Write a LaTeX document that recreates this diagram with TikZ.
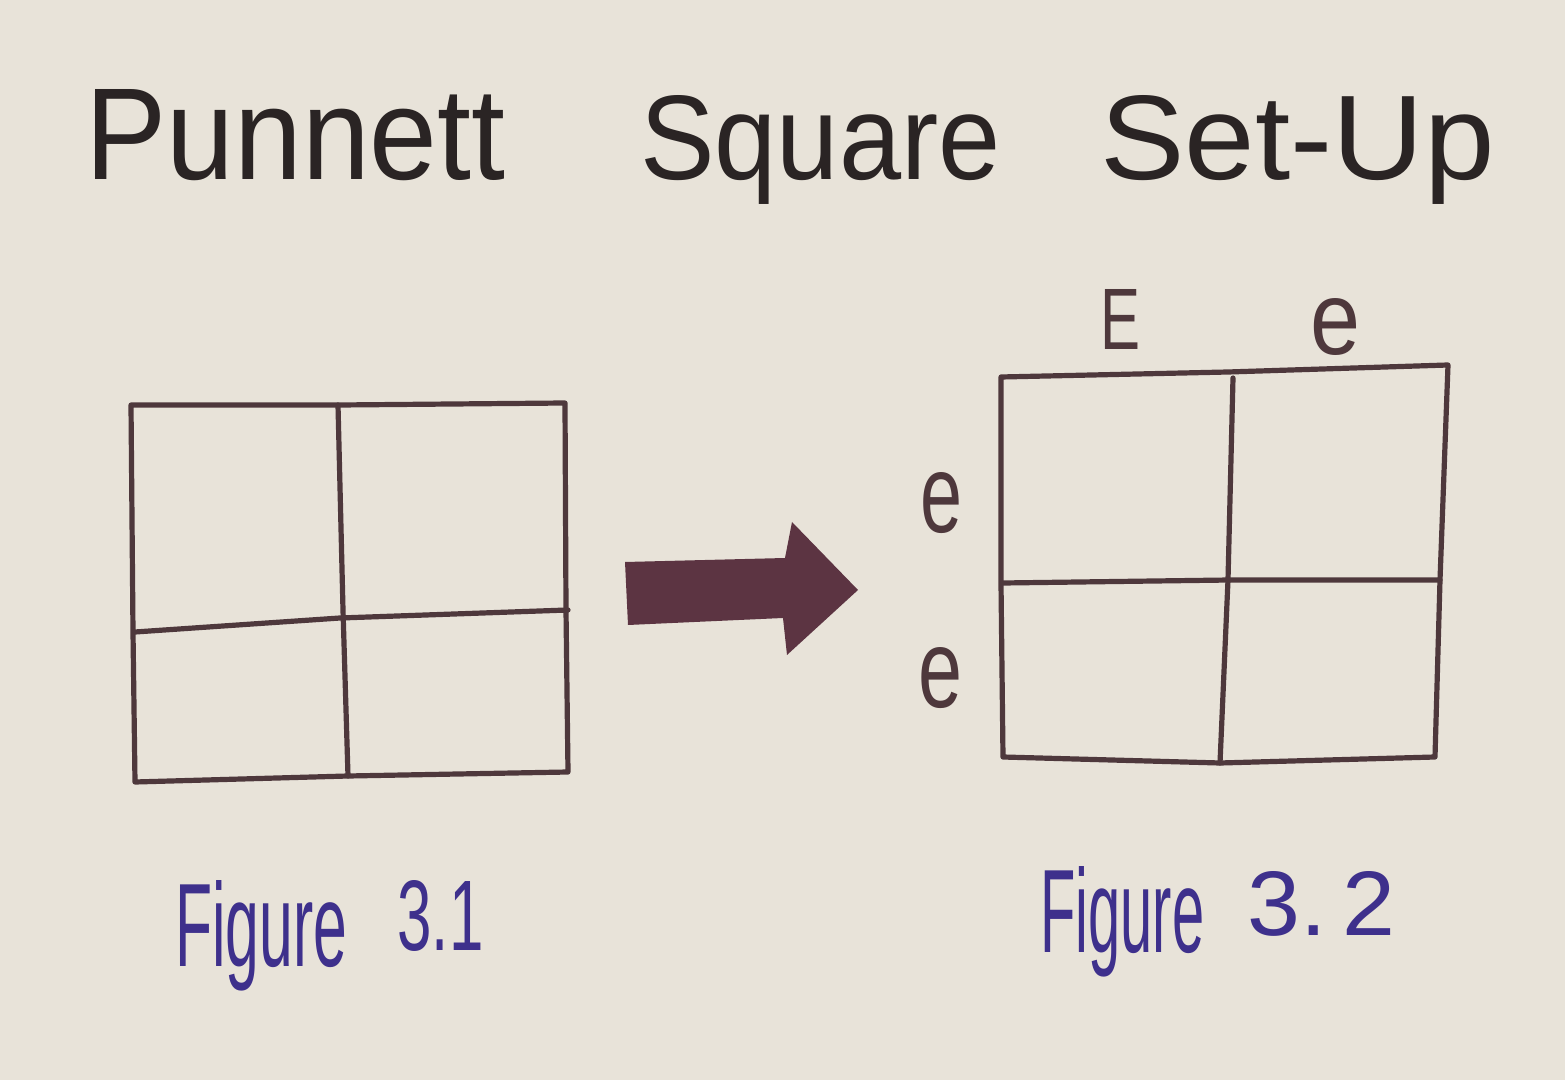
\documentclass[tikz,border=0pt]{standalone}
\usepackage{fontspec}
\setmainfont{Liberation Sans}
\usepackage{graphicx}
\definecolor{paper}{RGB}{232,227,217}
\definecolor{ink}{RGB}{78,56,60}
\definecolor{arrowfill}{RGB}{92,52,66}
\definecolor{title}{RGB}{42,36,36}
\definecolor{blueink}{RGB}{62,48,140}
\tikzset{
  gridline/.style={draw=ink, line width=2.6pt, line cap=round, line join=round},
  word/.style={inner sep=0pt, anchor=base west, text=title},
  allele/.style={inner sep=0pt, anchor=base west, text=ink},
  caption/.style={inner sep=0pt, anchor=base west, text=blueink},
}
\begin{document}
\begin{tikzpicture}[x=0.5pt,y=-0.5pt]
\fill[paper] (0,0) rectangle (1565,1080);
\useasboundingbox (0,0) rectangle (1565,1080);

% Title
\node[word] (t1) at (85,180) {\resizebox{210pt}{45pt}{Punnett}};
\node[word] (t2) at (640,180) {\resizebox{180pt}{42pt}{Square}};
\node[word] (t3) at (1100,180) {\resizebox{197pt}{42pt}{Set-Up}};

% Grid 1
\draw[gridline] (131,405) -- (340,405) -- (565,403) -- (566,610) -- (568,772) -- (348,776) -- (135,782) -- (133,632) -- cycle;
\draw[gridline] (338,405) -- (343,610) -- (348,776);
\draw[gridline] (135,632) -- (340,618) -- (568,610);

% Arrow
\fill[arrowfill] (625,562) -- (785,558) -- (792,522) -- (858,590) -- (787,655) -- (783,618) -- (628,625) -- cycle;

% Grid 2
\draw[gridline] (1001,377) -- (1228,372) -- (1448,365) -- (1440,580) -- (1435,757) -- (1220,763) -- (1003,757) -- (1001,583) -- cycle;
\draw[gridline] (1233,378) -- (1228,580) -- (1220,763);
\draw[gridline] (1003,583) -- (1230,580) -- (1440,580);

% Alleles
\node[allele] (a1) at (1100,350) {\resizebox{20pt}{30pt}{E}};
\node[allele] (a2) at (1310,355) {\resizebox{25pt}{28pt}{e}};
\node[allele] (a3) at (920,533) {\resizebox{21pt}{30pt}{e}};
\node[allele] (a4) at (918,708) {\resizebox{22pt}{30pt}{e}};

% Captions
\node[caption] (c1) at (175,966) {\resizebox{86pt}{43pt}{Figure}};
\node[caption] (c1n) at (397,950) {\resizebox{43pt}{35pt}{3.1}};
\node[caption] (c2) at (1040,952) {\resizebox{82pt}{43pt}{Figure}};
\node[caption] (c2n) at (1247,935) {\resizebox{74pt}{32pt}{3.\,2}};
\end{tikzpicture}
\end{document}
